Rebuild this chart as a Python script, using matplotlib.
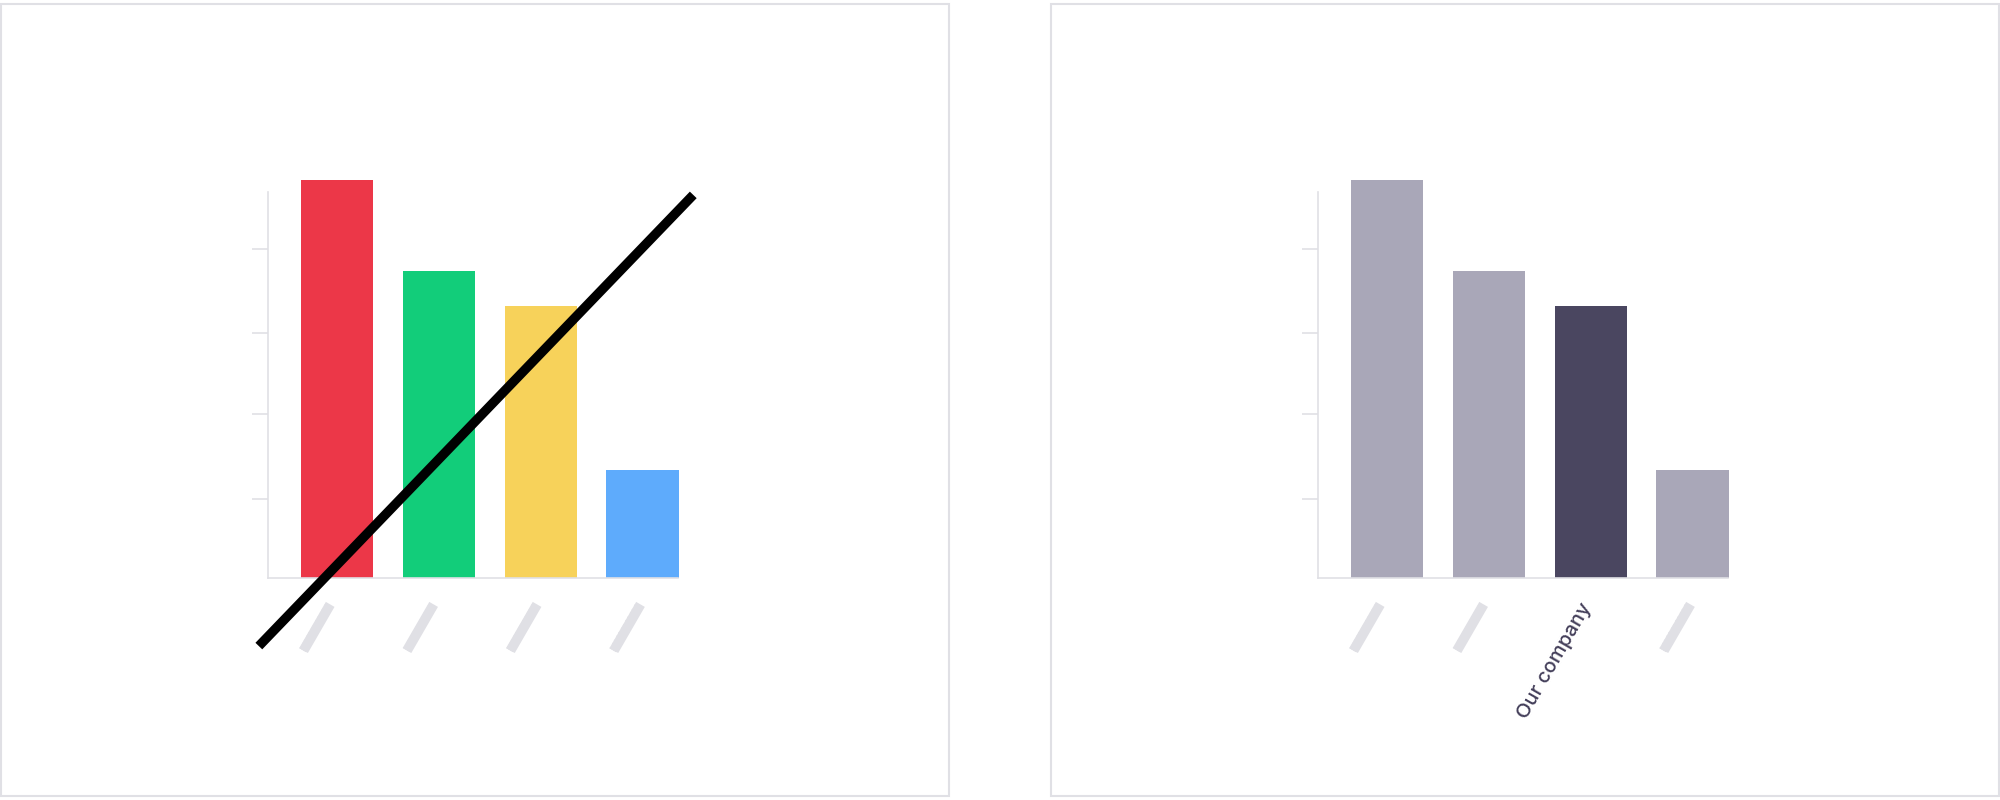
import matplotlib
matplotlib.use('Agg')
import matplotlib.pyplot as plt
from matplotlib.patches import Rectangle
from matplotlib.transforms import ScaledTranslation

# bar data (same for both panels)
categories = ['A', 'B', 'Our company', 'D']
values = [96, 74, 65.5, 26]
y_ticks = [19, 39.5, 59, 79.3]

# left panel: colourful bars, crossed out
left_colors = ['#ec3748', '#12cd7a', '#f7d25a', '#5eabfc']
strike_x = [-0.77, 3.5]
strike_y = [-16.4, 92.3]

# right panel: one highlighted bar
right_colors = ['#a9a7b8', '#a9a7b8', '#4a4660', '#a9a7b8']
right_labels = ['', '', 'Our company', '']

grey = '#e0e0e5'
label_col = '#443f5a'

fig = plt.figure(figsize=(20, 8), dpi=100)
fig.set_facecolor('white')

# panel frames
for x0 in [1 / 2000, 1051 / 2000]:
    fig.patches.append(Rectangle((x0, 4 / 800), 948 / 2000, 792 / 800,
                                 transform=fig.transFigure, fill=False,
                                 edgecolor=grey, linewidth=1.5))


def draw_panel(left, colors, labels):
    ax = fig.add_axes([left, 0.2775, 0.205, 0.4825])
    xs = range(len(values))
    ax.bar(xs, values, width=0.71, color=colors, linewidth=0, clip_on=False, zorder=2)
    ax.set_xlim(-0.68, 3.35)
    ax.set_ylim(0, 93)
    for s in ['top', 'right']:
        ax.spines[s].set_visible(False)
    for s in ['left', 'bottom']:
        ax.spines[s].set_color(grey)
        ax.spines[s].set_linewidth(1.2)
    ax.set_yticks(y_ticks)
    ax.set_yticklabels([])
    ax.tick_params(axis='y', length=11.5, width=1.2, color=grey, direction='out')
    ax.set_xticks(list(xs))
    ax.set_xticklabels(['MMMMMM' if lb == '' else lb for lb in labels])
    ax.tick_params(axis='x', length=0, pad=19)
    for i, (t, lb) in enumerate(zip(ax.get_xticklabels(), labels)):
        # labels sit a bit left of the bar centre, drifting right
        shift = ScaledTranslation((-7 + 1.7 * i) / 100, 0, fig.dpi_scale_trans)
        t.set_rotation(60)
        t.set_rotation_mode('anchor')
        t.set_ha('right')
        t.set_va('center')
        t.set_transform(t.get_transform() + shift)
        if lb == '':
            # grey placeholder instead of a name
            t.set_fontsize(7.4)
            t.set_color(grey)
            t.set_bbox(dict(boxstyle='square,pad=0', facecolor=grey, edgecolor='none'))
        else:
            t.set_fontsize(14.5)
            t.set_color(label_col)
            t.set_fontweight('medium')
            t.set_fontfamily(['Inter', 'DejaVu Sans'])
    return ax


ax1 = draw_panel(0.134, left_colors, ['', '', '', ''])
ax1.plot(strike_x, strike_y, color='black', linewidth=6.8,
         solid_capstyle='butt', clip_on=False, zorder=5)

ax2 = draw_panel(0.659, right_colors, right_labels)

fig.savefig('out.png', dpi=100, facecolor='white')
